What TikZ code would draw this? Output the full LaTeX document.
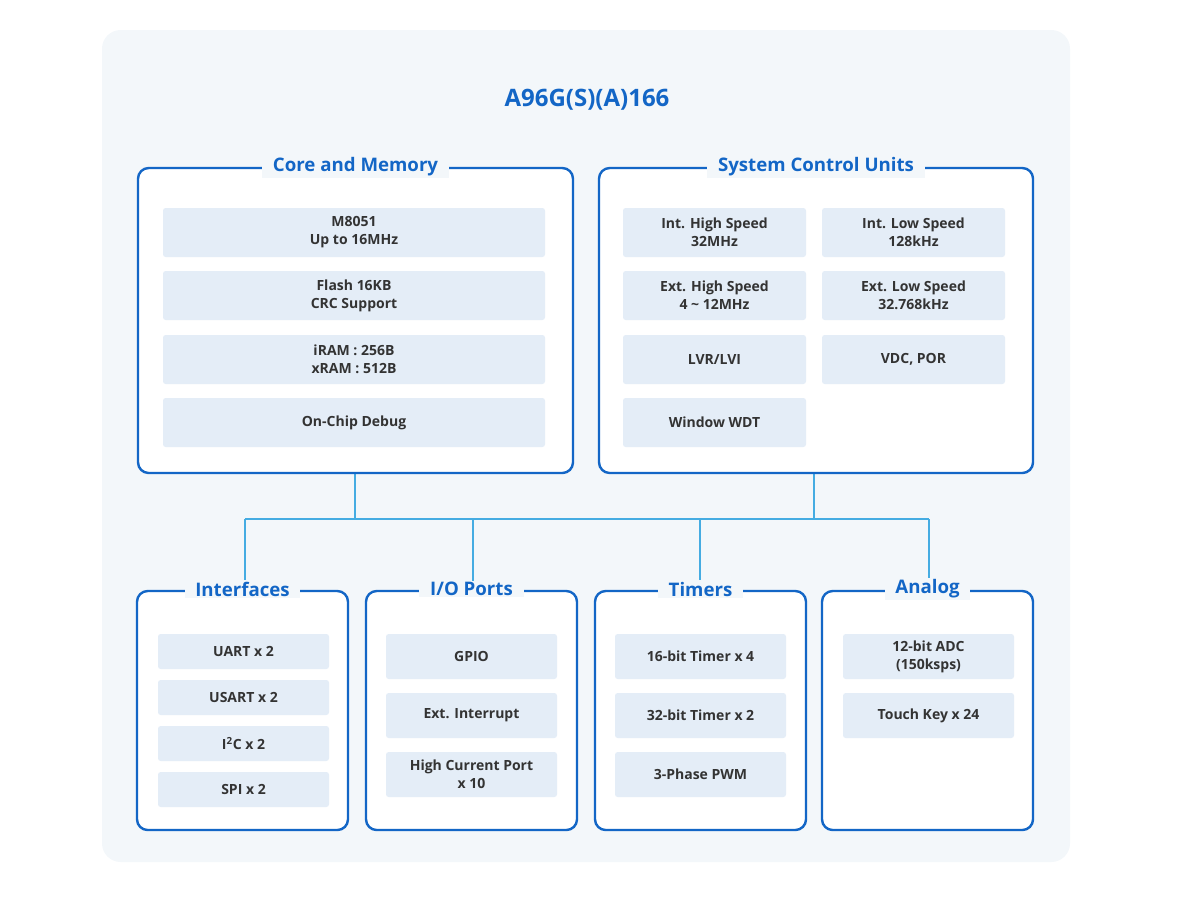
\documentclass[tikz,border=0pt]{standalone}
\usepackage{fontspec}
\setmainfont{Open Sans}
\usepackage{tikz}
\usetikzlibrary{positioning,calc}
\definecolor{bgpanel}{HTML}{F3F7FA}
\definecolor{titleblue}{HTML}{1366C6}
\definecolor{cellfill}{HTML}{E4EDF7}
\definecolor{busblue}{HTML}{45ACE2}
\definecolor{txtgray}{HTML}{333333}
\begin{document}
\begin{tikzpicture}[x=0.75pt,y=-0.75pt,
  group/.style={draw=titleblue,line width=1.8pt,rounded corners=8pt},
  gtitle/.style={fill=bgpanel,text=titleblue,font=\fontsize{14}{16}\selectfont\bfseries,inner xsep=8pt,inner ysep=1pt},
  cell/.style={fill=cellfill,rounded corners=2pt,text=txtgray,align=center,font=\fontsize{10.5}{13.5}\selectfont\bfseries},
  bus/.style={draw=busblue,line width=2.2pt}]
  % canvas and panel
  \useasboundingbox (0,0) rectangle (1191,908);
  \fill[bgpanel,rounded corners=14pt] (102,30) rectangle (1070,862);
  \node[text=titleblue,font=\fontsize{18}{20}\selectfont\bfseries] (title) at (587,100) {A96G(S)(A)166};

  % bus lines (under the group frames)
  \coordinate (busL) at (245,519);
  \coordinate (busR) at (929,519);
  \coordinate (core) at (355,473);
  \coordinate (scu) at (814,473);
  \draw[bus] (core) -- (355,519);
  \draw[bus] (scu) -- (814,519);
  \draw[bus] (busL) -- (busR);
  \foreach \x in {245,473,700,929}
    \draw[bus] (\x,519) -- (\x,591);

  % top groups
  \draw[group,fill=white] (138,168) rectangle (573,473);
  \node[gtitle] (coreT) at (355.5,167) {Core and Memory};
  \draw[group,fill=white] (599,168) rectangle (1033,473);
  \node[gtitle] (scuT) at (816,167) {System Control Units};

  % core cells
  \foreach \y/\t in {208/{M8051\\Up to 16MHz},271/{Flash 16KB\\CRC Support},335/{iRAM : 256B\\xRAM : 512B},398/{On-Chip Debug}}
    \path[cell] (163,\y) rectangle (545,\y+49) node[midway] {\t};

  % system control cells
  \foreach \y/\t in {208/{Int. High Speed\\32MHz},271/{Ext. High Speed\\4 \textasciitilde{} 12MHz},335/{LVR/LVI},398/{Window WDT}}
    \path[cell] (623,\y) rectangle (806,\y+49) node[midway] {\t};
  \foreach \y/\t in {208/{Int. Low Speed\\128kHz},271/{Ext. Low Speed\\32.768kHz},335/{VDC, POR}}
    \path[cell] (822,\y) rectangle (1005,\y+49) node[midway] {\t};

  % bottom groups
  \foreach \x/\t/\n in {137/Interfaces/ifc,366/I\slash O Ports/io,595/Timers/tmr,822/Analog/ana}{
    \draw[group,fill=white] (\x,591) rectangle (\x+211,830);
    \node[gtitle] (\n) at (\x+105.5,589) {\t};
  }

  % interfaces cells
  \foreach \y/\t in {634/{UART x 2},680/{USART x 2},726/{I\textsuperscript{2}C x 2},772/{SPI x 2}}
    \path[cell] (158,\y) rectangle (329,\y+35) node[midway] {\t};
  % i/o cells
  \foreach \y/\t in {634/{GPIO},693/{Ext. Interrupt},752/{High Current Port\\x 10}}
    \path[cell] (386,\y) rectangle (557,\y+45) node[midway] {\t};
  % timer cells
  \foreach \y/\t in {634/{16-bit Timer x 4},693/{32-bit Timer x 2},752/{3-Phase PWM}}
    \path[cell] (615,\y) rectangle (786,\y+45) node[midway] {\t};
  % analog cells
  \foreach \y/\t in {634/{12-bit ADC\\(150ksps)},693/{Touch Key x 24}}
    \path[cell] (843,\y) rectangle (1014,\y+45) node[midway] {\t};
\end{tikzpicture}
\end{document}
